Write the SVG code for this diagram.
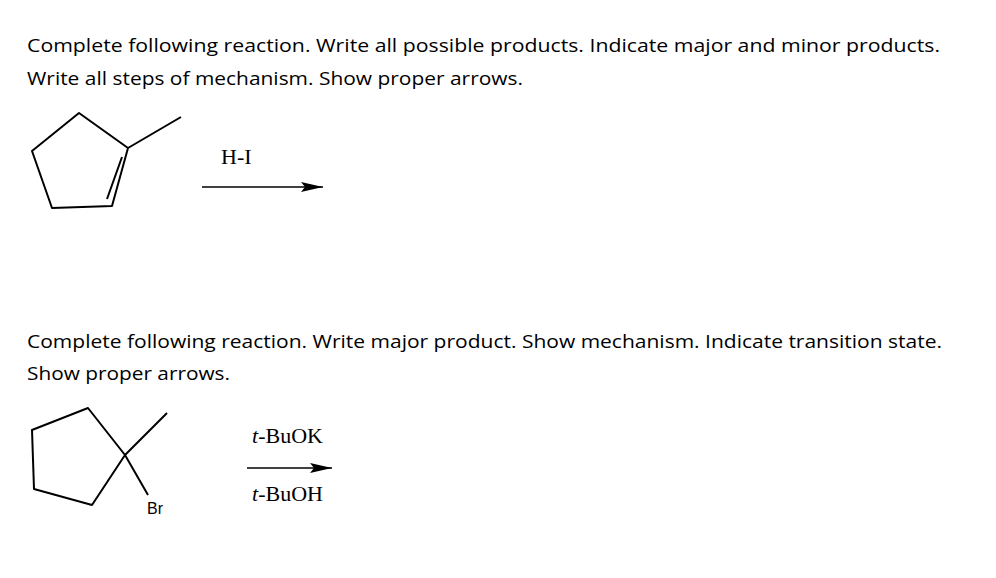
<svg xmlns="http://www.w3.org/2000/svg" width="996" height="578" viewBox="0 0 996 578">
<style>
.h{font-family:"Open Sans","Liberation Sans",sans-serif;font-size:18.5px;fill:#000}
.r{font-family:"Liberation Serif",serif;font-size:22px;fill:#000}
.b{fill:none;stroke:#000;stroke-width:2;stroke-linejoin:round}
</style>
<defs><marker id="ah" markerWidth="22" markerHeight="10" refX="22" refY="5" orient="auto" markerUnits="userSpaceOnUse"><path d="M0,0 L22,5 L0,10 L4,5 Z"/></marker></defs>
<rect width="996" height="578" fill="#fff"/>
<g id="text">
<text class="h" x="27" y="52" textLength="913" lengthAdjust="spacingAndGlyphs">Complete following reaction. Write all possible products. Indicate major and minor products.</text>
<text class="h" x="27" y="85" textLength="496" lengthAdjust="spacingAndGlyphs">Write all steps of mechanism. Show proper arrows.</text>
<text class="h" x="27" y="348" textLength="915" lengthAdjust="spacingAndGlyphs">Complete following reaction. Write major product. Show mechanism. Indicate transition state.</text>
<text class="h" x="27" y="380" textLength="203" lengthAdjust="spacingAndGlyphs">Show proper arrows.</text>
</g>
<g id="mol1">
<path class="b" d="M79,113 L128,148 L112,206 L52,208 L32,151 Z M128,148 L181,117 M122,157 L107,199"/>
</g>
<g id="mol2">
<path class="b" d="M88,408 L125,455 L92,505 L34,489 L32,430 Z M125,455 L167,413 M125,455 L148,495"/>
<text x="147" y="514" font-family="Liberation Sans,sans-serif" font-size="16">Br</text>
</g>
<g id="connectors">
<line x1="202" y1="187" x2="323" y2="187" stroke="#000" stroke-width="1.5" marker-end="url(#ah)"/>
<line x1="247" y1="468" x2="332" y2="468" stroke="#000" stroke-width="1.5" marker-end="url(#ah)"/>
</g>
<g id="labels">
<text class="r" x="221" y="164">H-I</text>
<text class="r" x="252" y="443"><tspan font-style="italic">t</tspan>-BuOK</text>
<text class="r" x="252" y="501"><tspan font-style="italic">t</tspan>-BuOH</text>
</g>
</svg>
